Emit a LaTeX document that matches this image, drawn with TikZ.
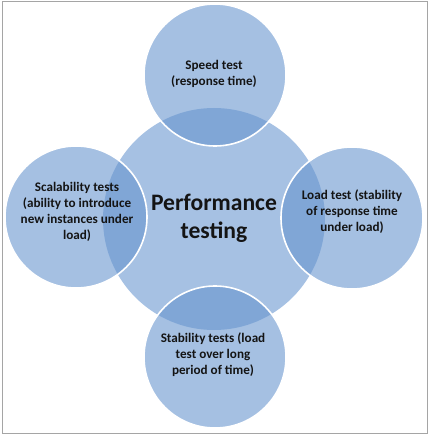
\documentclass[tikz,border=0pt]{standalone}
\usepackage{fontspec}
\setmainfont{Carlito}
\definecolor{centerfill}{RGB}{166,193,227}
\definecolor{satfill}{RGB}{102,148,206}
\definecolor{framegray}{RGB}{165,165,165}
\definecolor{txt}{RGB}{20,20,20}
\tikzset{
  hub/.style={circle, fill=centerfill, minimum size=222bp, inner sep=0pt},
  sat/.style={circle, fill=satfill, fill opacity=0.59, draw=white, draw opacity=1, line width=1.6bp, minimum size=142bp, inner sep=0pt},
  sattext/.style={align=center, text=txt, font=\fontsize{13.2}{16}\selectfont\bfseries, inner sep=0pt},
  hubtext/.style={align=center, text=txt, font=\fontsize{23.7}{28.5}\selectfont\bfseries, inner sep=0pt}
}
\begin{document}
\begin{tikzpicture}[x=1bp, y=-1bp]
\useasboundingbox (0,0) rectangle (429,435);
\draw[framegray, line width=1bp] (2.5,1.5) rectangle (427.5,433.5);
\node[hub] (hub) at (214,219) {};
\node[sat] (top) at (215,75) {};
\node[sat] (left) at (76,217) {};
\node[sat] (right) at (352,218) {};
\node[sat] (bottom) at (215,357) {};
\node[hubtext] (hubt) at (214,218) {Performance\\testing};
\node[sattext] (topt) at (214,74) {Speed test\\(response time)};
\node[sattext] (leftt) at (77,212) {Scalability tests\\(ability to introduce\\new instances under\\load)};
\node[sattext] (rightt) at (352,212) {Load test (stability\\of response time\\under load)};
\node[sattext] (bottomt) at (213,355) {Stability tests (load\\test over long\\period of time)};
\end{tikzpicture}
\end{document}
